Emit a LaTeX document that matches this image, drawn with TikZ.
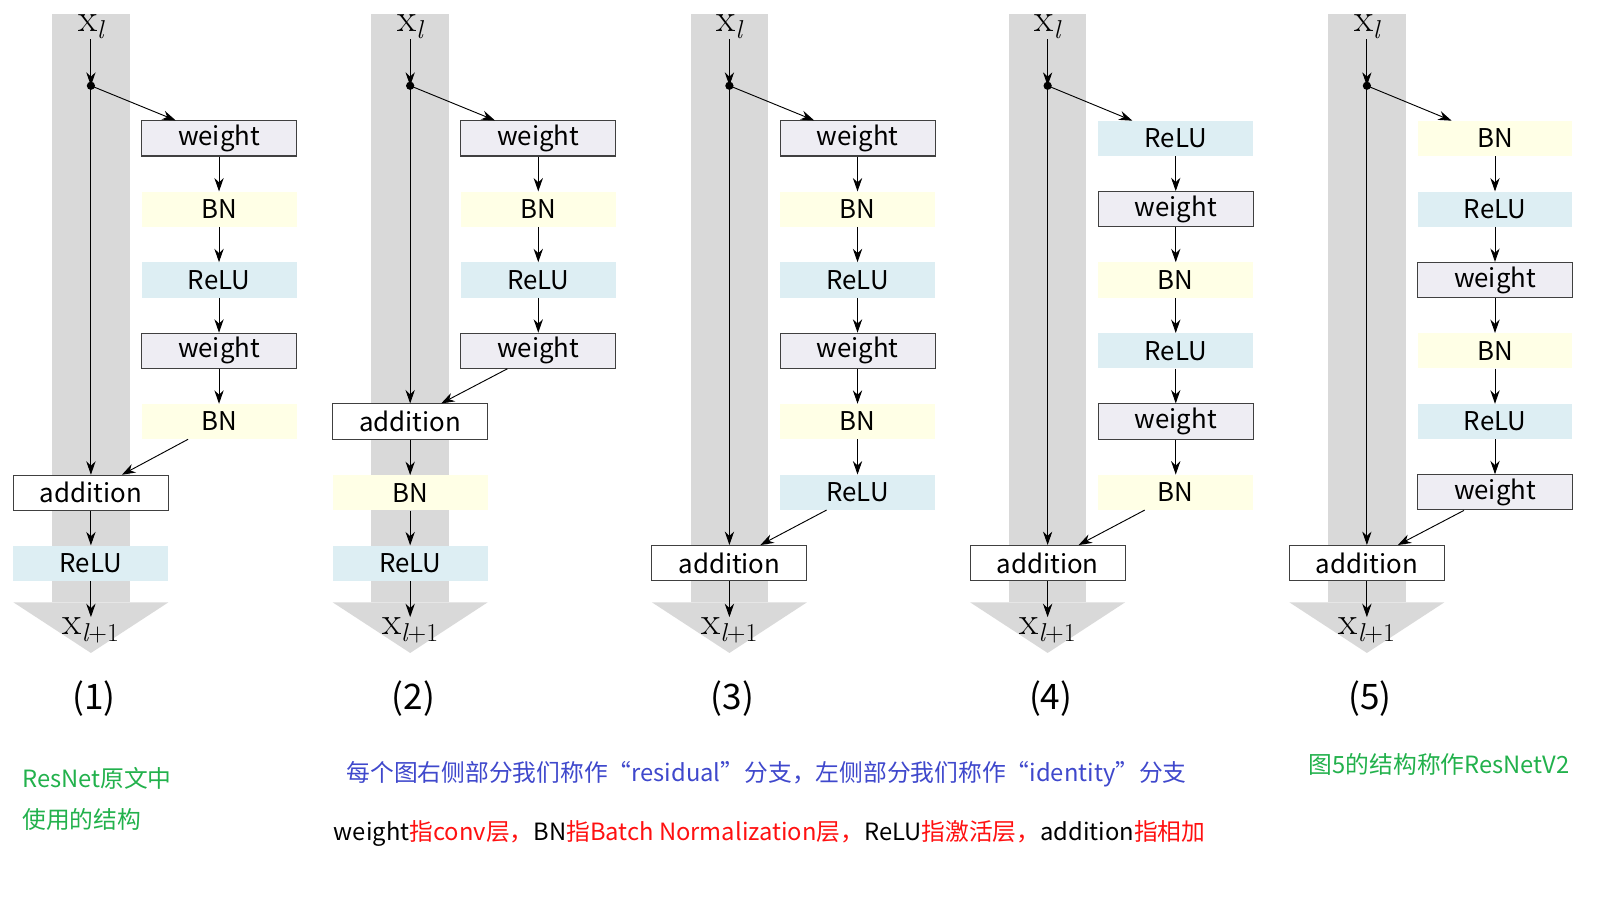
\documentclass[tikz,border=0pt]{standalone}
\usepackage[no-math]{fontspec}
\setmainfont{Noto Sans CJK SC}
\newfontfamily\lmr{Latin Modern Roman}
\usetikzlibrary{arrows.meta}
\definecolor{band}{HTML}{D9D9D9}
\definecolor{wfill}{HTML}{EEEDF3}
\definecolor{bnfill}{HTML}{FFFFE6}
\definecolor{rlfill}{HTML}{DDEEF3}
\definecolor{gtxt}{HTML}{22B14C}
\definecolor{btxt}{HTML}{3F48CC}
\definecolor{rtxt}{HTML}{FF1010}
\newcommand\xsub[1]{{\lmr\fontsize{38}{40}\selectfont x\raisebox{-7pt}{\fontsize{25}{26}\selectfont #1}}}
\tikzset{
 box/.style={minimum width=150pt,minimum height=34pt,inner sep=0pt,font=\fontsize{25}{28}\selectfont},
 weight/.style={box,fill=wfill,draw=black!75,line width=1pt},
 BN/.style={box,fill=bnfill},
 ReLU/.style={box,fill=rlfill},
 addition/.style={box,fill=white,draw=black!75,line width=1pt},
 arr/.style={-{Stealth[length=13pt,width=9pt]},line width=0.9pt},
 xl/.style={inner sep=0pt},
 lab/.style={font=\fontsize{34}{36}\selectfont},
 note/.style={font=\fontsize{23}{26}\selectfont,anchor=west}
}
\newcommand\stg[4]{% name, cx, list, label
 \fill[band] (#2-37.5,14) rectangle (#2+37.5,583);
 \fill[band] (#2-75,583) -- (#2+75,583) -- (#2,632) -- cycle;
 \node[xl] (#1x) at (#2,26) {\xsub{\itshape l}};
 \node[xl] (#1y) at (#2,610) {\xsub{{\itshape l}+1}};
 \fill (#2,83) circle (4pt);
 \coordinate (#1d) at (#2,83);
 \draw[arr] (#1x) -- (#1d);
 \node[lab] (#1n) at (#2+3,676) {(#4)};
 \foreach \t [count=\i] in {#3} {
  \node[\t] (#1b\i) at (#2+124,{134+68.5*(\i-1)}) {\t};
  \ifnum\i>1 \pgfmathtruncatemacro\j{\i-1}\draw[arr] (#1b\j) -- (#1b\i);\fi
 }
 \draw[arr] (#1d) -- ([xshift=-42pt]#1b1.north);
}
\begin{document}
\begin{tikzpicture}[x=1pt,y=-1pt]
\useasboundingbox (0,0) rectangle (1568,869);
% col 1
\stg{a}{88}{weight,BN,ReLU,weight,BN}{1}
\node[addition] (aadd) at (88,477) {addition};
\node[ReLU] (arl) at (88,545) {ReLU};
\draw[arr] (ad) -- (aadd);
\draw[arr] ([xshift=-30pt]ab5.south) -- ([xshift=30pt]aadd.north);
\draw[arr] (aadd) -- (arl);
\draw[arr] (arl) -- (ay);
% col 2
\stg{b}{397}{weight,BN,ReLU,weight}{2}
\node[addition] (badd) at (397,408) {addition};
\node[BN] (bbn) at (397,477) {BN};
\node[ReLU] (brl) at (397,545) {ReLU};
\draw[arr] (bd) -- (badd);
\draw[arr] ([xshift=-30pt]bb4.south) -- ([xshift=30pt]badd.north);
\draw[arr] (badd) -- (bbn);
\draw[arr] (bbn) -- (brl);
\draw[arr] (brl) -- (by);
% col 3-5
\stg{c}{706}{weight,BN,ReLU,weight,BN,ReLU}{3}
\stg{e}{1014}{ReLU,weight,BN,ReLU,weight,BN}{4}
\stg{f}{1323}{BN,ReLU,weight,BN,ReLU,weight}{5}
\foreach \n/\x in {c/706,e/1014,f/1323}{
 \node[addition] (\n add) at (\x,545) {addition};
 \draw[arr] (\n d) -- (\n add);
 \draw[arr] ([xshift=-30pt]\n b6.south) -- ([xshift=30pt]\n add.north);
 \draw[arr] (\n add) -- (\n y);
}
% notes
\node[note,text=gtxt] (g1) at (18,753) {ResNet原文中};
\node[note,text=gtxt] (g2) at (18,793) {使用的结构};
\node[note,text=btxt,anchor=center] (bl) at (742,749) {每个图右侧部分我们称作“residual”分支，左侧部分我们称作“identity”分支};
\node[note,anchor=center] (rd) at (745,807) {weight\textcolor{rtxt}{指conv层，}BN\textcolor{rtxt}{指Batch Normalization层，}ReLU\textcolor{rtxt}{指激活层，}addition\textcolor{rtxt}{指相加}};
\node[note,text=gtxt,anchor=center] (g3) at (1393,740) {图5的结构称作ResNetV2};
\end{tikzpicture}
\end{document}
